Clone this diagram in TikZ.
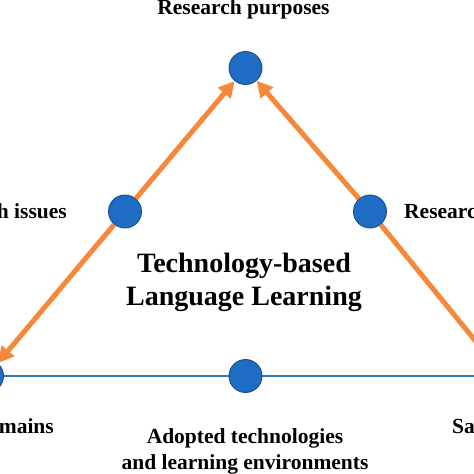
\documentclass[tikz,border=0pt]{standalone}
\usepackage{fontspec}
\setmainfont{Liberation Serif}
\usetikzlibrary{arrows.meta}
\definecolor{dotfill}{HTML}{1F6CC4}
\definecolor{dotline}{HTML}{1B4E8C}
\definecolor{arrorange}{HTML}{F5883A}
\definecolor{baseblue}{HTML}{2E75B6}
\tikzset{
  dot/.style={circle, fill=dotfill, draw=dotline, line width=0.9pt, minimum size=33pt, inner sep=0pt},
  orangearrow/.style={draw=arrorange, line width=5pt, -{Triangle[length=16pt,width=16pt]}},
  bluebase/.style={draw=baseblue, line width=1.8pt},
  lbl/.style={font=\bfseries\fontsize{21.5}{26}\selectfont, inner sep=0pt, align=center},
  bigl/.style={font=\bfseries\fontsize{28}{33}\selectfont, inner sep=0pt, align=center}
}
\begin{document}
\begin{tikzpicture}[x=1pt,y=-1pt]
\useasboundingbox (0,0) rectangle (474,474);
\fill[white] (0,0) rectangle (474,474);
\clip (0,0) rectangle (474,474);
\node[dot] (top) at (245.5,68) {};
\node[dot] (lm) at (125,211.5) {};
\node[dot] (rm) at (370,211.5) {};
\node[dot] (bl) at (-13,376) {};
\node[dot] (br) at (504,376) {};
\node[dot] (bm) at (245.5,376) {};
\draw[bluebase] (bl) -- (bm);
\draw[bluebase] (bm) -- (br);
\draw[orangearrow] (lm) -- (top);
\draw[orangearrow] (lm) -- (bl);
\draw[orangearrow] (rm) -- (top);
\draw[orangearrow] (rm) -- (br);
\node[lbl, anchor=base] (ltop) at (243.5,14) {Research purposes};
\node[lbl, anchor=base east] (lleft) at (67,218) {Research issues};
\node[lbl, anchor=base west] (lright) at (404,218) {Research methods};
\node[lbl, anchor=base east] (lbl2) at (54,433) {Learning domains};
\node[lbl, anchor=base west] (lbr) at (452,433) {Samples};
\node[lbl, anchor=base] (lbot) at (245,469) {Adopted technologies\\and learning environments};
\node[bigl, anchor=base] (center) at (244,305) {Technology-based\\Language Learning};
\end{tikzpicture}
\end{document}
